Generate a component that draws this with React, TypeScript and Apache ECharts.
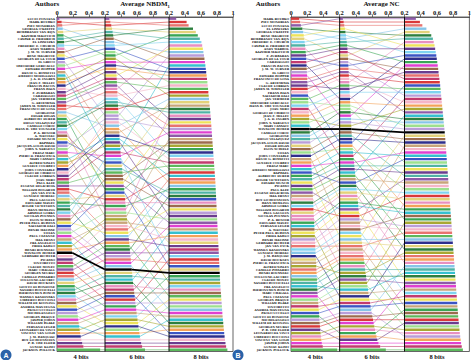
import React, { useEffect, useRef } from "react";
import * as echarts from "echarts";

// ---------- DATA ----------
const tickLabels = ["0", "0.2", "0.4", "0.2", "0.4", "0.6", "0.8", "0.2", "0.4", "0.6", "0.8", "1"];
const columnNames = ["4 bits", "6 bits", "8 bits"];
const highlighted = "WINSLOW HOMER";

// Panel A: authors in 4-bit ranking order (top = lowest NBDM)
const authorsA = [
  "LUCIO FONTANA", "MARK ROTHKO", "PIET MONDRIAN", "GEORGIA O'KEEFFE", "REMBRANDT VAN RIJN", "KAZIMIR MALEVICH", "CASPAR D. FRIEDRICH", "EL LISSITZKY", "FREDERIC E. CHURCH", "ANDY WARHOL",
  "J. M. W. TURNER", "RENE MAGRITTE", "GEORGES DE LA TOUR", "EL GRECO", "THEODORE GERICAULT", "EDWARD HOPPER", "DANTE G. ROSSETTI", "AMEDEO MODIGLIANI", "J. A. D. INGRES", "JEAN F. MILLET",
  "FRANCIS BACON", "FRANS HALS", "F. ZURBARAN", "CARAVAGGIO", "JAN VERMEER", "G. ARTEMISIA", "JAMES M. WHISTLER", "FRANCISCO DE GOYA", "GIORGIONE", "EDGAR DEGAS",
  "ALBRECHT DURER", "DIEGO VELAZQUEZ", "CAMILLE COROT", "HANS H. THE YOUNGER", "P. A. RENOIR", "A. WATTEAU", "EDVARD MUNCH", "RAPHAEL", "JACQUES-LOUIS DAVID", "JOHN S. SARGENT",
  "FRANZ MARC", "PIERO D. FRANCESCA", "MARY CASSATT", "ALFRED SISLEY", "GUSTAVE COURBET", "JOHN CONSTABLE", "GIORGIO DE CHIRICO", "CLAUDE LORRAIN", "JOAN MIRO", "PAUL KLEE",
  "EUGENE DELACROIX", "WILLIAM HOGARTH", "JAN VAN EYCK", "GUSTAVE MOREAU", "PAUL GAUGUIN", "EDOUARD MANET", "ROGER VD WEYDEN", "HANS MEMLING", "ARSHILE GORKY", "NICOLAS POUSSIN",
  "EGON SCHIELE", "PETER PAUL RUBENS", "SALVADOR DALI", "HENRI MATISSE", "TITIAN", "PAUL CEZANNE", "MAX ERNST", "FRA ANGELICO", "FRIDA KAHLO", "HENRI ROUSSEAU",
  "WINSLOW HOMER", "GERHARD RICHTER", "PICASSO", "TINTORETTO", "CLAUDE MONET", "MARC CHAGALL", "GEORGES SEURAT", "CAMILLE PISSARRO", "TOULOUSE-LAUTREC", "DAVID HOCKNEY",
  "GIOTTO DI BONDONE", "SANDRO BOTTICELLI", "HIERONYMUS BOSCH", "WASSILY KANDINSKY", "UMBERTO BOCCIONI", "WILLEM DE KOONING", "ANDREA MANTEGNA", "PAOLO UCCELLO", "MICHELANGELO", "GEORGES BRAQUE",
  "JASPER JOHNS", "WILLIAM BLAKE", "FERNAND LEGER", "LEONARDO DA VINCI", "VINCENT VAN GOGH", "J. M. BASQUIAT", "ROY LICHTENSTEIN", "P. B. THE ELDER", "GUSTAV KLIMT", "JACKSON POLLOCK",
];
// 4-bit NBDM, row order (= authorsA order)
const nbdm4A = [
  0.030, 0.058, 0.066, 0.072, 0.078, 0.082, 0.085, 0.088, 0.090, 0.092,
  0.094, 0.096, 0.097, 0.099, 0.100, 0.101, 0.103, 0.104, 0.105, 0.107,
  0.108, 0.109, 0.110, 0.112, 0.113, 0.114, 0.116, 0.117, 0.118, 0.120,
  0.121, 0.122, 0.124, 0.125, 0.126, 0.128, 0.129, 0.131, 0.132, 0.134,
  0.135, 0.137, 0.138, 0.140, 0.141, 0.143, 0.145, 0.146, 0.148, 0.150,
  0.151, 0.153, 0.155, 0.157, 0.158, 0.160, 0.162, 0.164, 0.166, 0.168,
  0.170, 0.172, 0.174, 0.176, 0.178, 0.180, 0.182, 0.184, 0.186, 0.188,
  0.190, 0.193, 0.196, 0.199, 0.202, 0.205, 0.208, 0.211, 0.214, 0.218,
  0.222, 0.226, 0.230, 0.234, 0.238, 0.242, 0.246, 0.251, 0.256, 0.261,
  0.266, 0.272, 0.278, 0.284, 0.290, 0.297, 0.305, 0.315, 0.330, 0.540,
];
// rank of each author (authorsA order) in the 6-bit column
const rank6A = [
  1, 3, 2, 8, 4, 12, 5, 6, 9, 22, 7, 18, 10, 30, 11, 14, 35, 40, 13, 16,
  15, 24, 17, 19, 20, 21, 28, 23, 33, 45, 52, 26, 27, 25, 58, 48, 50, 44, 31, 29,
  42, 60, 37, 39, 34, 36, 32, 38, 41, 47, 51, 55, 64, 66, 54, 57, 46, 70, 43, 56,
  49, 65, 53, 72, 59, 74, 62, 79, 61, 68, 76, 63, 67, 82, 69, 71, 85, 73, 75, 77,
  87, 78, 80, 90, 81, 83, 92, 84, 86, 94, 88, 89, 96, 91, 95, 93, 97, 98, 99, 100,
];
// 6-bit NBDM, by row of the 6-bit column
const nbdm6A = [
  0.255, 0.268, 0.279, 0.288, 0.296, 0.303, 0.309, 0.315, 0.321, 0.326,
  0.330, 0.333, 0.335, 0.337, 0.339, 0.341, 0.343, 0.345, 0.347, 0.349,
  0.351, 0.353, 0.355, 0.357, 0.359, 0.361, 0.363, 0.365, 0.367, 0.369,
  0.371, 0.373, 0.375, 0.377, 0.379, 0.381, 0.383, 0.386, 0.389, 0.392,
  0.395, 0.399, 0.403, 0.407, 0.411, 0.415, 0.419, 0.423, 0.427, 0.431,
  0.435, 0.439, 0.443, 0.447, 0.451, 0.455, 0.459, 0.463, 0.467, 0.471,
  0.475, 0.479, 0.483, 0.487, 0.491, 0.495, 0.499, 0.503, 0.507, 0.511,
  0.515, 0.519, 0.523, 0.527, 0.531, 0.535, 0.539, 0.543, 0.547, 0.551,
  0.556, 0.561, 0.566, 0.571, 0.576, 0.581, 0.586, 0.591, 0.596, 0.601,
  0.607, 0.613, 0.619, 0.625, 0.631, 0.637, 0.644, 0.652, 0.664, 0.700,
];
const rank8A = [
  1, 2, 3, 11, 5, 6, 7, 4, 8, 9, 13, 10, 16, 12, 20, 14, 27, 15, 24, 18,
  17, 21, 31, 19, 22, 36, 23, 33, 25, 26, 40, 29, 28, 42, 30, 38, 32, 55, 34, 46,
  35, 37, 48, 39, 50, 41, 43, 60, 44, 45, 62, 47, 49, 51, 68, 52, 53, 54, 72, 56,
  57, 58, 75, 59, 61, 63, 64, 65, 80, 66, 77, 67, 69, 70, 84, 71, 73, 74, 88, 76,
  78, 79, 92, 81, 82, 83, 85, 95, 86, 87, 89, 90, 91, 93, 94, 96, 97, 98, 99, 100,
];
const nbdm8A = [
  0.290, 0.420, 0.445, 0.500, 0.535, 0.560, 0.585, 0.605, 0.615, 0.623,
  0.630, 0.637, 0.643, 0.649, 0.655, 0.660, 0.665, 0.670, 0.675, 0.680,
  0.684, 0.688, 0.692, 0.696, 0.700, 0.704, 0.708, 0.712, 0.716, 0.720,
  0.723, 0.726, 0.729, 0.732, 0.735, 0.738, 0.741, 0.744, 0.747, 0.750,
  0.753, 0.756, 0.759, 0.762, 0.765, 0.768, 0.771, 0.774, 0.777, 0.780,
  0.782, 0.784, 0.786, 0.788, 0.790, 0.792, 0.794, 0.796, 0.798, 0.800,
  0.802, 0.804, 0.806, 0.808, 0.810, 0.812, 0.814, 0.816, 0.818, 0.820,
  0.822, 0.824, 0.826, 0.828, 0.830, 0.832, 0.834, 0.836, 0.838, 0.840,
  0.843, 0.846, 0.849, 0.852, 0.855, 0.858, 0.861, 0.864, 0.867, 0.870,
  0.874, 0.878, 0.882, 0.886, 0.890, 0.895, 0.900, 0.906, 0.914, 0.930,
];

// Panel B: authors in 4-bit NC ranking order
const authorsB = [
  "MARK ROTHKO", "PIET MONDRIAN", "LUCIO FONTANA", "EL LISSITZKY", "GEORGIA O'KEEFFE", "RENE MAGRITTE", "REMBRANDT VAN RIJN", "FREDERIC E. CHURCH", "CASPAR D. FRIEDRICH", "ANDY WARHOL",
  "KAZIMIR MALEVICH", "F. ZURBARAN", "GEORGES DE LA TOUR", "CARAVAGGIO", "FRANCIS BACON", "J. M. W. TURNER", "EL GRECO", "EDWARD HOPPER", "FRANCISCO DE GOYA", "G. ARTEMISIA",
  "CLAUDE LORRAIN", "JAMES M. WHISTLER", "FRANS HALS", "SALVADOR DALI", "JAN VERMEER", "THEODORE GERICAULT", "HANS H. THE YOUNGER", "JOAN MIRO", "GIORGIO DE CHIRICO", "JEAN F. MILLET",
  "J. A. D. INGRES", "JOHN S. SARGENT", "MARY CASSATT", "WINSLOW HOMER", "CAMILLE COROT", "GIORGIONE", "DIEGO VELAZQUEZ", "JACQUES-LOUIS DAVID", "EDGAR DEGAS", "EGON SCHIELE",
  "TITIAN", "JOHN CONSTABLE", "DANTE G. ROSSETTI", "GUSTAVE COURBET", "FRANZ MARC", "AMEDEO MODIGLIANI", "RAPHAEL", "ALBRECHT DURER", "ROGER VD WEYDEN", "EDVARD MUNCH",
  "PICASSO", "PAUL KLEE", "EUGENE DELACROIX", "MAX ERNST", "ROY LICHTENSTEIN", "HANS MEMLING", "ARSHILE GORKY", "WILLIAM HOGARTH", "PAUL GAUGUIN", "NICOLAS POUSSIN",
  "P. A. RENOIR", "EDOUARD MANET", "FERNAND LEGER", "A. WATTEAU", "PETER PAUL RUBENS", "FRIDA KAHLO", "HENRI MATISSE", "GERHARD RICHTER", "JAN VAN EYCK", "WASSILY KANDINSKY",
  "GUSTAVE MOREAU", "J. M. BASQUIAT", "DAVID HOCKNEY", "PIERO D. FRANCESCA", "ALFRED SISLEY", "CAMILLE PISSARRO", "HENRI ROUSSEAU", "TOULOUSE-LAUTREC", "CLAUDE MONET", "SANDRO BOTTICELLI",
  "FRA ANGELICO", "HIERONYMUS BOSCH", "MARC CHAGALL", "PAUL CEZANNE", "GEORGES BRAQUE", "WILLIAM BLAKE", "TINTORETTO", "ANDREA MANTEGNA", "PAOLO UCCELLO", "GIOTTO DI BONDONE",
  "MICHELANGELO", "WILLEM DE KOONING", "GEORGES SEURAT", "P. B. THE ELDER", "LEONARDO DA VINCI", "UMBERTO BOCCIONI", "VINCENT VAN GOGH", "JASPER JOHNS", "GUSTAV KLIMT", "JACKSON POLLOCK",
];
const nc4B = [
  0.100, 0.112, 0.122, 0.140, 0.150, 0.158, 0.164, 0.169, 0.174, 0.178,
  0.182, 0.185, 0.188, 0.190, 0.192, 0.194, 0.196, 0.198, 0.200, 0.202,
  0.204, 0.206, 0.208, 0.210, 0.212, 0.214, 0.216, 0.218, 0.220, 0.222,
  0.224, 0.226, 0.228, 0.230, 0.232, 0.234, 0.236, 0.238, 0.240, 0.242,
  0.244, 0.246, 0.248, 0.250, 0.252, 0.254, 0.256, 0.258, 0.260, 0.262,
  0.264, 0.266, 0.268, 0.270, 0.272, 0.274, 0.276, 0.278, 0.280, 0.282,
  0.284, 0.286, 0.288, 0.290, 0.292, 0.294, 0.296, 0.298, 0.300, 0.302,
  0.304, 0.306, 0.308, 0.310, 0.312, 0.314, 0.316, 0.318, 0.320, 0.322,
  0.324, 0.326, 0.328, 0.330, 0.333, 0.336, 0.339, 0.342, 0.345, 0.348,
  0.351, 0.354, 0.357, 0.361, 0.365, 0.369, 0.374, 0.380, 0.392, 0.570,
];
const rank6B = [
  2, 3, 1, 5, 7, 4, 12, 6, 8, 20, 9, 10, 15, 11, 25, 13, 14, 30, 16, 17,
  22, 18, 19, 38, 21, 27, 23, 42, 24, 26, 33, 28, 47, 34, 29, 31, 36, 32, 55, 35,
  40, 37, 62, 39, 44, 41, 50, 43, 45, 66, 46, 48, 58, 49, 71, 51, 52, 60, 53, 54,
  75, 56, 57, 64, 59, 80, 61, 63, 69, 65, 67, 84, 68, 70, 77, 72, 73, 88, 74, 76,
  82, 78, 79, 92, 81, 83, 86, 85, 87, 95, 89, 90, 91, 97, 93, 94, 96, 98, 99, 100,
];
const nc6B = [
  0.240, 0.250, 0.258, 0.265, 0.272, 0.278, 0.283, 0.288, 0.293, 0.297,
  0.300, 0.302, 0.304, 0.306, 0.308, 0.310, 0.312, 0.314, 0.316, 0.318,
  0.320, 0.322, 0.324, 0.326, 0.328, 0.330, 0.332, 0.334, 0.336, 0.338,
  0.340, 0.342, 0.344, 0.346, 0.348, 0.350, 0.353, 0.356, 0.359, 0.362,
  0.366, 0.370, 0.374, 0.378, 0.382, 0.386, 0.390, 0.394, 0.398, 0.402,
  0.406, 0.410, 0.414, 0.418, 0.422, 0.426, 0.430, 0.434, 0.438, 0.442,
  0.446, 0.450, 0.454, 0.458, 0.462, 0.466, 0.470, 0.475, 0.480, 0.485,
  0.490, 0.495, 0.500, 0.505, 0.510, 0.515, 0.520, 0.526, 0.532, 0.538,
  0.544, 0.550, 0.556, 0.562, 0.568, 0.575, 0.582, 0.589, 0.596, 0.604,
  0.612, 0.620, 0.628, 0.636, 0.645, 0.655, 0.665, 0.680, 0.700, 0.770,
];
const rank8B = [
  2, 3, 1, 6, 4, 9, 5, 11, 7, 8, 14, 10, 12, 19, 13, 16, 24, 15, 18, 29,
  17, 20, 26, 21, 22, 33, 23, 25, 40, 27, 28, 44, 30, 35, 31, 32, 48, 34, 36, 37,
  52, 38, 39, 57, 41, 42, 43, 61, 45, 46, 47, 66, 49, 50, 51, 70, 53, 54, 55, 74,
  56, 58, 59, 60, 79, 62, 63, 64, 65, 83, 67, 68, 69, 87, 71, 72, 73, 75, 90, 76,
  77, 78, 80, 81, 93, 82, 84, 85, 86, 88, 96, 89, 91, 92, 94, 95, 97, 98, 99, 100,
];
const nc8B = [
  0.340, 0.390, 0.420, 0.470, 0.510, 0.530, 0.550, 0.560, 0.570, 0.578,
  0.585, 0.592, 0.598, 0.604, 0.610, 0.615, 0.620, 0.625, 0.630, 0.635,
  0.640, 0.644, 0.648, 0.652, 0.656, 0.660, 0.664, 0.668, 0.672, 0.676,
  0.680, 0.684, 0.688, 0.692, 0.696, 0.700, 0.703, 0.706, 0.709, 0.712,
  0.715, 0.718, 0.721, 0.724, 0.727, 0.730, 0.733, 0.736, 0.739, 0.742,
  0.745, 0.748, 0.751, 0.754, 0.757, 0.760, 0.763, 0.766, 0.769, 0.772,
  0.775, 0.778, 0.781, 0.784, 0.787, 0.790, 0.793, 0.796, 0.799, 0.802,
  0.805, 0.808, 0.811, 0.814, 0.817, 0.820, 0.823, 0.826, 0.829, 0.832,
  0.835, 0.838, 0.841, 0.844, 0.847, 0.850, 0.853, 0.856, 0.859, 0.862,
  0.866, 0.870, 0.874, 0.878, 0.882, 0.887, 0.892, 0.898, 0.906, 0.920,
];

// ---------- STYLE ----------
const FONT = "'Liberation Serif', 'Times New Roman', serif";
const LABEL_FONT = "'DejaVu Serif', 'Liberation Serif', serif";
const palette = [
  "#8e5aa8", "#d9383a", "#e8736f", "#86c5e8", "#e3d27a", "#3aa655", "#4fb3a5", "#2d7f3f",
  "#7fd3f0", "#e88fc0", "#9c6b4e", "#eee35a", "#3b55c4", "#b99dd8", "#9de08e", "#e040d0",
  "#c8a57a", "#35c0d0", "#a8a832", "#f4a259", "#2e2e8c", "#f5b5c8", "#6b3d8f", "#c23b6e", "#5cb85c",
];
const colOrigin = [0, 0.6, 1.4];
const colEnd = [0.6, 1.4, 2.2];
const colBase = [0, 0.2, 0.2];

function rowsFromRank(rank: number[]): number[] {
  const idx = rank.map((_, i) => i);
  idx.sort((a, b) => rank[a] - rank[b] || a - b);
  const row: number[] = new Array(rank.length);
  idx.forEach((a, k) => { row[a] = k; });
  return row;
}

const panels = [
  { authors: authorsA, v1: nbdm4A, rank2: rank6A, rows2: nbdm6A, rank3: rank8A, rows3: nbdm8A,
    left: 57, width: 176, title: "Average NBDM{s|1}", authorsX: 47, badge: "A", badgeX: 6 },
  { authors: authorsB, v1: nc4B, rank2: rank6B, rows2: nc6B, rank3: rank8B, rows3: nc8B,
    left: 291, width: 181, title: "Average NC", authorsX: 268, badge: "B", badgeX: 238 },
];

function colorOf(name: string, i: number) {
  if (name === highlighted) return "#000";
  const k = authorsA.indexOf(name);
  return palette[(k >= 0 ? k : i) % palette.length];
}

function buildOption() {
  const grids: any[] = [];
  const xAxes: any[] = [];
  const yAxes: any[] = [];
  const series: any[] = [];
  const graphics: any[] = [];
  const centers = colOrigin.map((o, k) => (o + colEnd[k]) / 2);

  panels.forEach((p, pi) => {
    grids.push({ left: p.left, top: 17, width: p.width, height: 335, show: true,
      borderColor: "#222", borderWidth: 0.7, backgroundColor: "transparent" });
    xAxes.push({
      type: "value", gridIndex: pi, position: "top", min: 0, max: 2.2, interval: 0.2,
      axisLine: { show: true, onZero: false, lineStyle: { color: "#222", width: 0.6 } },
      axisTick: { show: true, length: 2, lineStyle: { color: "#222", width: 0.6 } },
      splitLine: { show: false },
      axisLabel: { formatter: (v: number) => tickLabels[Math.round(v / 0.2)] ?? "",
        fontFamily: FONT, fontWeight: "bold", fontSize: 6.5, color: "#111", margin: 1.5 },
    });
    xAxes.push({
      type: "value", gridIndex: pi, position: "bottom", min: 0, max: 2.2, interval: 0.1,
      axisLine: { show: false }, axisTick: { show: false }, splitLine: { show: false },
      axisLabel: {
        formatter: (v: number) => {
          const k = centers.findIndex((c) => Math.abs(c - v) < 0.01);
          return k >= 0 ? columnNames[k] : "";
        },
        fontFamily: FONT, fontWeight: "bold", fontSize: 6.5, color: "#111", margin: 1.5,
      },
    });
    yAxes.push({
      type: "category", gridIndex: pi, data: p.authors, inverse: true,
      axisLine: { show: false }, axisTick: { show: false }, splitLine: { show: false },
      axisLabel: { interval: 0, fontSize: 2.85, lineHeight: 3.2, fontFamily: LABEL_FONT, fontWeight: "bold", color: "#111", margin: 2 },
    });

    const r2 = rowsFromRank(p.rank2);
    const r3 = rowsFromRank(p.rank3);
    const data = p.authors.map((_, i) => [
      i, i, colOrigin[0] + p.v1[i] - colBase[0],
      r2[i], colOrigin[1] + p.rows2[r2[i]] - colBase[1],
      r3[i], colOrigin[2] + p.rows3[r3[i]] - colBase[2],
    ]);
    const colors = p.authors.map((n, i) => colorOf(n, i));
    const isHi = p.authors.map((n) => n === highlighted);

    series.push({
      type: "custom", name: "bars" + pi, xAxisIndex: pi * 2, yAxisIndex: pi, data,
      encode: { x: 2, y: 1 }, clip: false, silent: true,
      renderItem: (params: any, api: any) => {
        const i = params.dataIndex;
        const color = colors[i];
        const hi = isHi[i];
        const bandH = api.size([0, 1])[1];
        const h = bandH * 0.72;
        const rows = [api.value(1), api.value(3), api.value(5)];
        const ends = [api.value(2), api.value(4), api.value(6)];
        const children: any[] = [];
        for (let c = 0; c < 3; c++) {
          const a = api.coord([colOrigin[c], rows[c]]);
          const b = api.coord([ends[c], rows[c]]);
          children.push({ type: "rect", z2: hi ? 4 : 2,
            shape: { x: a[0], y: a[1] - h / 2, width: Math.max(0, b[0] - a[0]), height: h },
            style: { fill: color } });
          if (c < 2) {
            const n = api.coord([colOrigin[c + 1], rows[c + 1]]);
            children.push({ type: "line", z2: hi ? 3 : 1,
              shape: { x1: b[0], y1: b[1], x2: n[0], y2: n[1] },
              style: { stroke: color, lineWidth: hi ? 1.8 : 0.8, opacity: hi ? 1 : 0.75 } });
          }
        }
        return { type: "group", children };
      },
    });
    series.push({
      type: "custom", name: "sep" + pi, xAxisIndex: pi * 2, yAxisIndex: pi,
      data: [[colOrigin[1], 0], [colOrigin[2], 0]], encode: { x: 0, y: 1 }, silent: true, z: 5,
      renderItem: (params: any, api: any) => {
        const cs = params.coordSys;
        const x = api.coord([api.value(0), 0])[0];
        return { type: "line", shape: { x1: x, y1: cs.y, x2: x, y2: cs.y + cs.height },
          style: { stroke: "#111", lineWidth: 1 } };
      },
    });

    graphics.push({ type: "text", x: p.authorsX, y: 4, style: { text: "Authors", fontFamily: FONT,
      fontWeight: "bold", fontSize: 7, fill: "#111", align: "center", verticalAlign: "middle" } });
    graphics.push({ type: "text", x: p.left + p.width / 2, y: 4, style: { text: p.title, fontFamily: FONT,
      fontWeight: "bold", fontSize: 7, fill: "#111", align: "center", verticalAlign: "middle",
      rich: { s: { fontSize: 4.5, fontFamily: FONT, fontWeight: "bold", fill: "#111", padding: [4, 0, 0, 0] } } } });
    graphics.push({ type: "group", x: p.badgeX, y: 355, children: [
      { type: "circle", shape: { cx: 0, cy: 0, r: 5.5 }, style: { fill: "#2a62a8" } },
      { type: "text", x: 0, y: 0.5, style: { text: p.badge, fontFamily: "'Liberation Sans', Arial, sans-serif",
        fontWeight: "bold", fontSize: 7, fill: "#fff", align: "center", verticalAlign: "middle" } },
    ] });
  });

  return { animation: false, backgroundColor: "#fff", grid: grids, xAxis: xAxes, yAxis: yAxes, series, graphic: graphics };
}

export default function App() {
  const ref = useRef<HTMLDivElement>(null);
  useEffect(() => {
    if (!ref.current) return;
    const chart = echarts.init(ref.current, null, { renderer: "svg" });
    chart.setOption(buildOption() as any);
    return () => chart.dispose();
  }, []);
  return <div ref={ref} style={{ position: "absolute", left: 0, top: 0, width: 474, height: 360 }} />;
}
